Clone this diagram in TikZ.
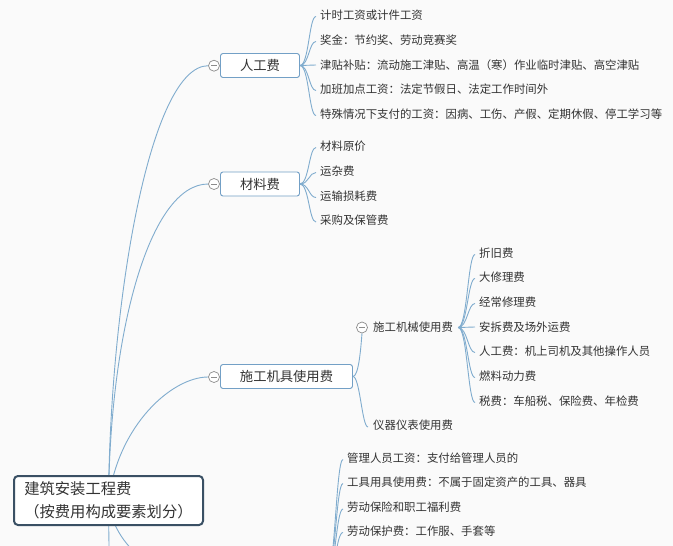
\documentclass[tikz,border=0pt]{standalone}
\usepackage{fontspec}
\setmainfont{Noto Sans CJK SC}
\definecolor{bgc}{RGB}{250,250,250}
\definecolor{linec}{RGB}{128,172,206}
\definecolor{boxc}{RGB}{115,160,198}
\definecolor{rootc}{RGB}{58,80,100}
\definecolor{txtc}{RGB}{51,51,51}
\definecolor{circc}{RGB}{140,140,140}
\pgfdeclarelayer{bg}
\pgfdeclarelayer{edges}
\pgfsetlayers{bg,edges,main}
\tikzset{
  conn/.style={draw=linec, line width=0.9pt},
  leaf/.style={anchor=west, inner sep=0pt, text=txtc, font=\fontsize{11.4}{13}\selectfont},
  mainbox/.style={draw=boxc, fill=white, rounded corners=2.5pt, line width=0.9pt,
    minimum height=24pt, text=txtc, font=\fontsize{13.3}{15}\selectfont, inner sep=0pt},
  rootbox/.style={draw=rootc, fill=white, rounded corners=4pt, line width=2pt,
    minimum width=189pt, minimum height=49pt, align=left, text=txtc,
    font=\fontsize{15.3}{23.5}\selectfont, inner sep=0pt},
  fold/.style={circle, draw=circc, fill=white, minimum size=11pt, inner sep=0pt, line width=0.7pt,
    path picture={\draw[circc, line width=0.7pt] ([xshift=2.5pt]path picture bounding box.west) -- ([xshift=-2.5pt]path picture bounding box.east);}}
}
\newcommand\mybranch[2]{\draw[conn] (#1) .. controls +(9,0) and +(-7,0) .. ([xshift=-4pt,yshift=-1.5pt]#2.west);}
\begin{document}
\begin{tikzpicture}[x=1pt,y=-1pt]
\begin{pgfonlayer}{bg}
\fill[bgc] (0,0) rectangle (673,546);
\end{pgfonlayer}
\useasboundingbox (0,0) rectangle (673,546);

% root
\node[rootbox] (root) at (108.5,500.5) {建筑安装工程费\\（按费用构成要素划分）};

% main nodes
\node[mainbox, minimum width=79pt] (n1) at (260,65.5) {人工费};
\node[mainbox, minimum width=79pt] (n2) at (260,184) {材料费};
\node[mainbox, minimum width=132pt] (n3) at (286.5,376.5) {施工机具使用费};
\node[fold] (c1) at (214,65.7) {};
\node[fold] (c2) at (214,184) {};
\node[fold] (c3) at (214,377) {};

% off-screen parents
\coordinate (q1) at (208,580);
\coordinate (q1r) at (326,580);
\coordinate (q2) at (208,1000);

% 人工费 children
\node[leaf] (a1) at (320,15) {计时工资或计件工资};
\node[leaf] (a2) at (320,40) {奖金：节约奖、劳动竞赛奖};
\node[leaf] (a3) at (320,65) {津贴补贴：流动施工津贴、高温（寒）作业临时津贴、高空津贴};
\node[leaf] (a4) at (320,89) {加班加点工资：法定节假日、法定工作时间外};
\node[leaf] (a5) at (320,114) {特殊情况下支付的工资：因病、工伤、产假、定期休假、停工学习等};

% 材料费 children
\node[leaf] (b1) at (320,146) {材料原价};
\node[leaf] (b2) at (320,171) {运杂费};
\node[leaf] (b3) at (320,196) {运输损耗费};
\node[leaf] (b4) at (320,220.5) {采购及保管费};

% 施工机具使用费 children
\node[fold] (c4) at (362,327.5) {};
\node[leaf] (m1) at (373,327.5) {施工机械使用费};
\node[leaf] (m2) at (373,425) {仪器仪表使用费};

% 施工机械使用费 children
\node[leaf] (k1) at (479,253) {折旧费};
\node[leaf] (k2) at (479,277) {大修理费};
\node[leaf] (k3) at (479,302) {经常修理费};
\node[leaf] (k4) at (479,327) {安拆费及场外运费};
\node[leaf] (k5) at (479,351) {人工费：机上司机及其他操作人员};
\node[leaf] (k6) at (479,376) {燃料动力费};
\node[leaf] (k7) at (479,401) {税费：车船税、保险费、年检费};

% lower branch children
\node[leaf] (g1) at (347,458) {管理人员工资：支付给管理人员的};
\node[leaf] (g2) at (347,482) {工具用具使用费：不属于固定资产的工具、器具};
\node[leaf] (g3) at (347,507.5) {劳动保险和职工福利费};
\node[leaf] (g4) at (347,531) {劳动保护费：工作服、手套等};

\begin{pgfonlayer}{edges}
\draw[conn] (root.center) .. controls (110,300) and (150,66) .. (c1.west);
\draw[conn] (root.center) .. controls (110,330) and (150,184) .. (c2.west);
\draw[conn] (root.center) .. controls (118,425) and (172,377) .. (c3.west);
\draw[conn] (root.center) .. controls (112,540) and (150,580) .. (q1);
\draw[conn] (root.center) .. controls (110,800) and (150,1000) .. (q2);

\mybranch{n1.east}{a1}
\mybranch{n1.east}{a2}
\draw[conn] (n1.east) -- ([xshift=-4pt]a3.west);
\mybranch{n1.east}{a4}
\mybranch{n1.east}{a5}

\mybranch{n2.east}{b1}
\mybranch{n2.east}{b2}
\mybranch{n2.east}{b3}
\mybranch{n2.east}{b4}

\draw[conn] (n3.east) .. controls +(6,0) and +(-1,12) .. (c4.south);
\draw[conn] (n3.east) .. controls +(7,0) and +(-6,0) .. ([xshift=-5pt,yshift=-2pt]m2.west);

\mybranch{[xshift=5pt]m1.east}{k1}
\mybranch{[xshift=5pt]m1.east}{k2}
\mybranch{[xshift=5pt]m1.east}{k3}
\draw[conn] ([xshift=5pt]m1.east) -- ([xshift=-4pt]k4.west);
\mybranch{[xshift=5pt]m1.east}{k5}
\mybranch{[xshift=5pt]m1.east}{k6}
\mybranch{[xshift=5pt]m1.east}{k7}

\mybranch{q1r}{g1}
\mybranch{q1r}{g2}
\mybranch{q1r}{g3}
\mybranch{q1r}{g4}
\end{pgfonlayer}
\end{tikzpicture}
\end{document}
